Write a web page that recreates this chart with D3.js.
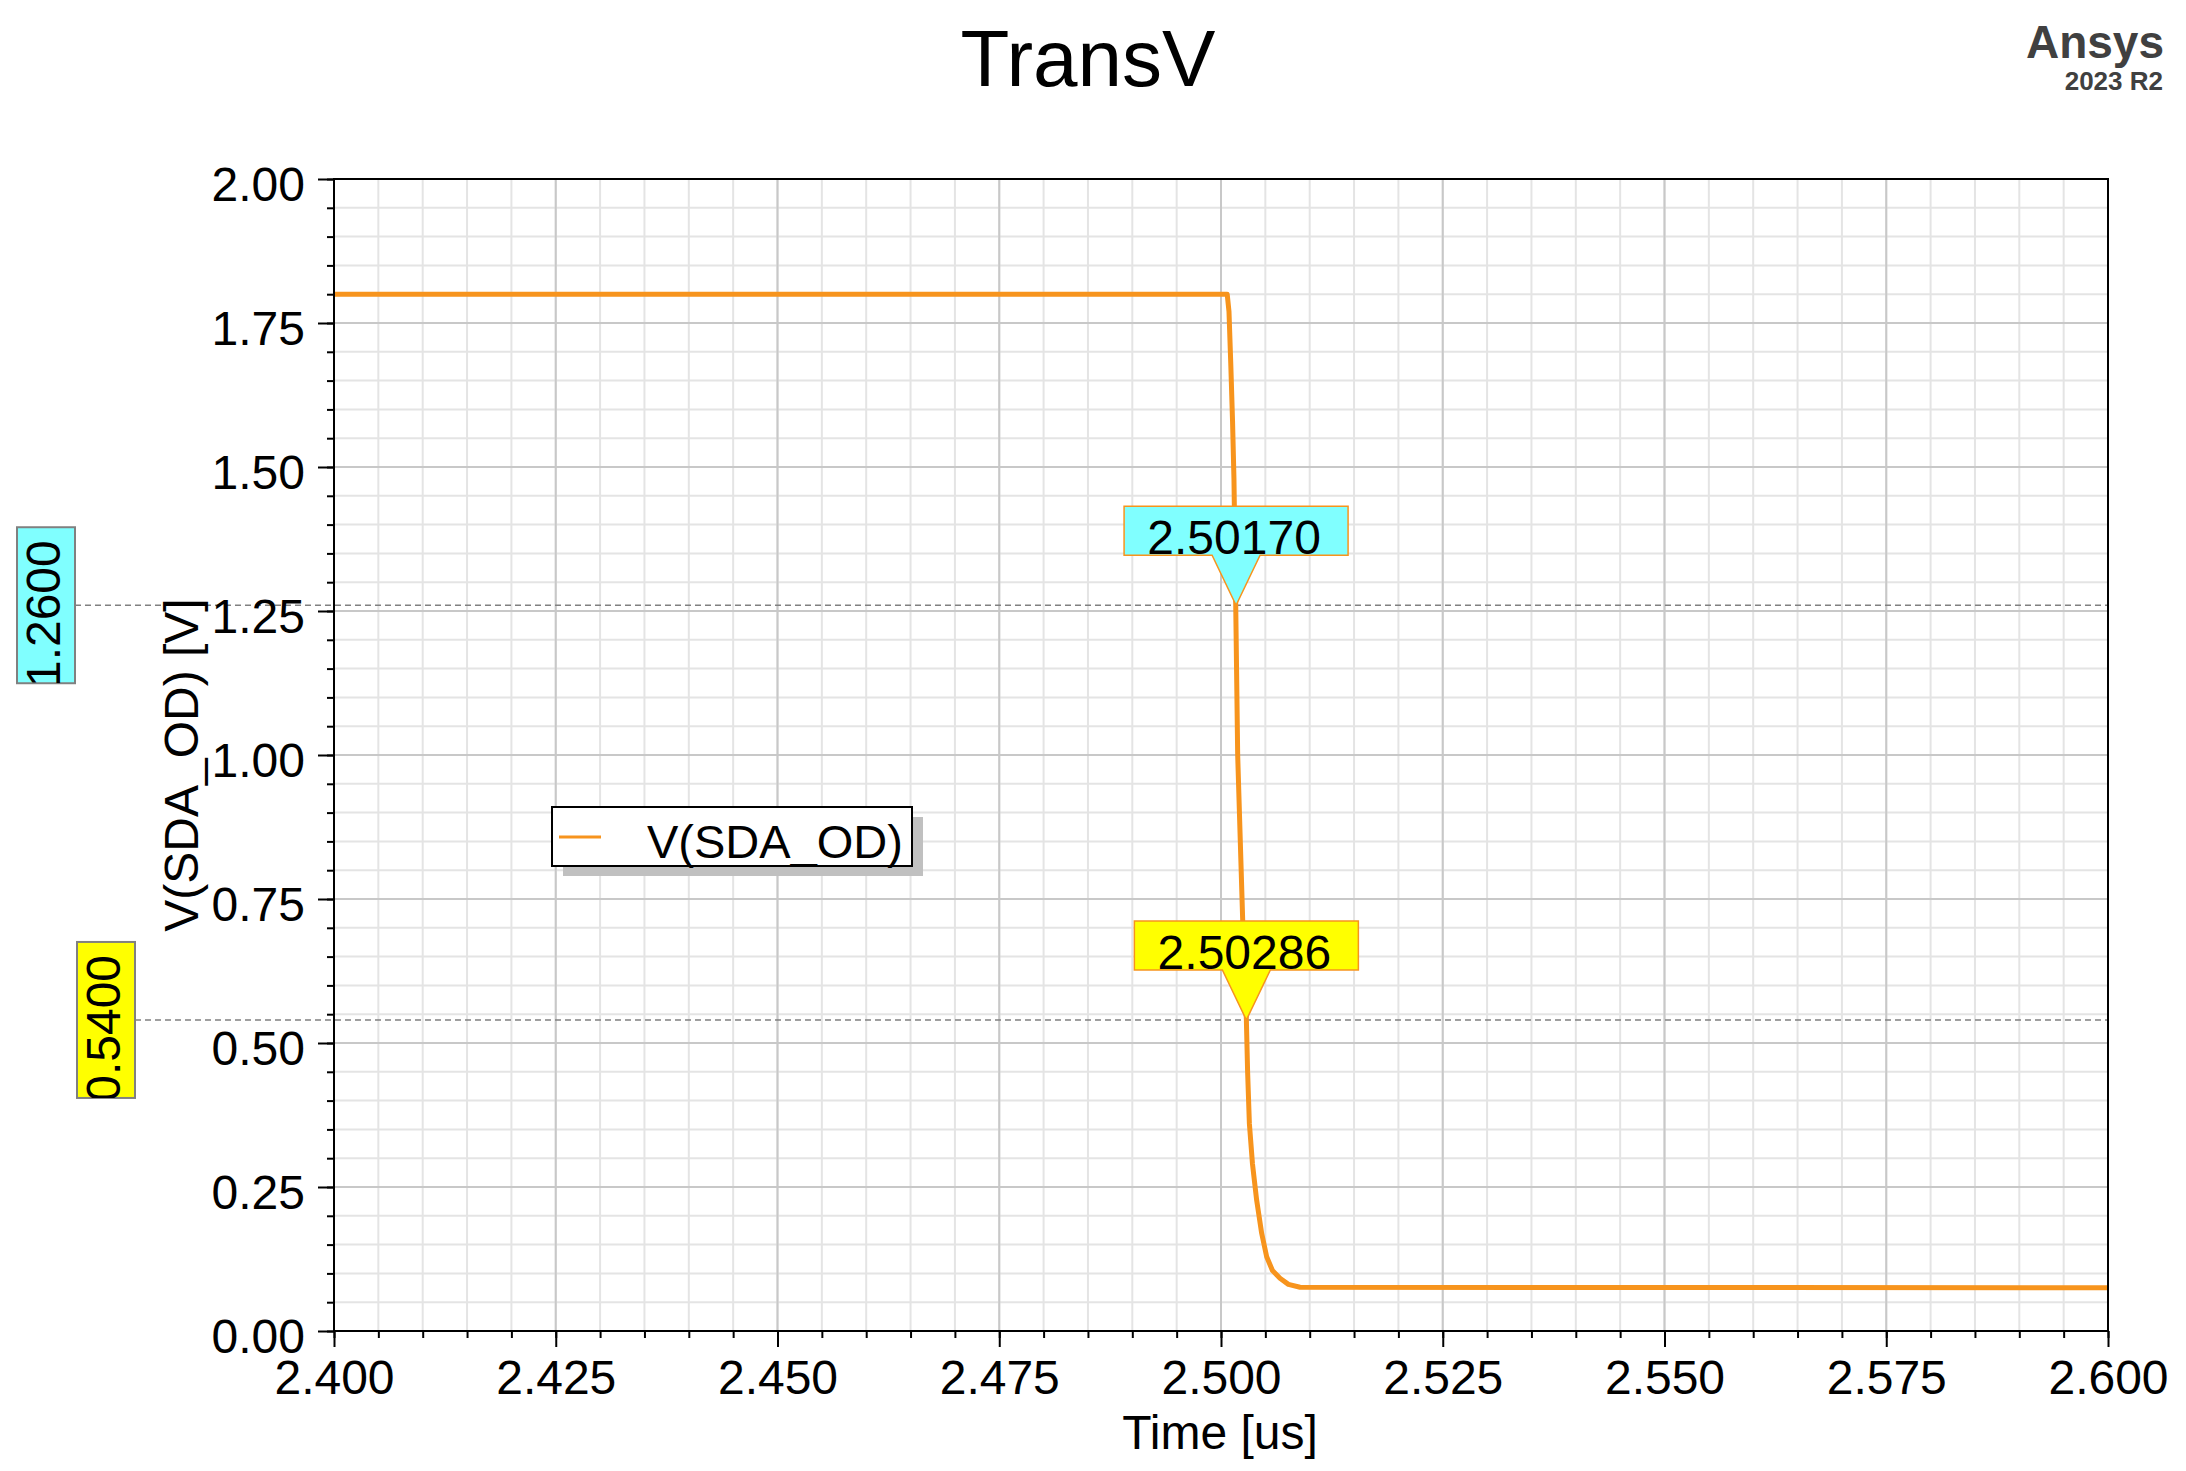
<!DOCTYPE html>
<html>
<head>
<meta charset="utf-8">
<script src="https://cdn.jsdelivr.net/npm/d3@7"></script>
<style>
  body { margin: 0; background: #fff; }
  text { font-family: "Liberation Sans", Arial, sans-serif; }
</style>
</head>
<body>
<svg id="chart" width="2186" height="1471"></svg>
<script>
/* TransV waveform - V(SDA_OD) falling edge with two cursor markers */

// waveform samples (time in us, volts)
var times = [2.4000, 2.5007, 2.5009, 2.5011, 2.5013, 2.50146, 2.50166, 2.50188, 2.50244, 2.50286,
             2.50300, 2.50320, 2.50355, 2.50402, 2.50458, 2.50515, 2.50580, 2.50665, 2.50760, 2.50891, 2.6000];
var volts = [1.800, 1.800, 1.770, 1.680, 1.580, 1.480, 1.260, 1.000, 0.716, 0.540,
             0.450, 0.360, 0.290, 0.227, 0.170, 0.129, 0.105, 0.0915, 0.081, 0.0759, 0.075];

// cursor markers
var markerTimes = [2.50170, 2.50286];
var markerVolts = [1.26, 0.54];
var markerTimeLabels = ['2.50170', '2.50286'];
var markerVoltLabels = ['1.2600', '0.5400'];
var markerColors = ['#80ffff', '#ffff00'];

var xMajorTicks = [2.400, 2.425, 2.450, 2.475, 2.500, 2.525, 2.550, 2.575, 2.600];
var yMajorTicks = [0.00, 0.25, 0.50, 0.75, 1.00, 1.25, 1.50, 1.75, 2.00];

var seriesName = 'V(SDA_OD)';

var margin = { top: 179, right: 78, bottom: 140, left: 334 },
    fullW = 2186, fullH = 1471,
    width = fullW - margin.left - margin.right,
    height = fullH - margin.top - margin.bottom,
    orange = '#f7941d',
    font = 48;

var svg = d3.select('#chart');

var x = d3.scaleLinear().domain([2.4, 2.6]).range([margin.left, margin.left + width]);
var y = d3.scaleLinear().domain([0, 2]).range([margin.top + height, margin.top]);

var xMinor = d3.range(0, 41).map(function(i) { return 2.4 + i * 0.005; });
var yMinor = d3.range(0, 41).map(function(i) { return i * 0.05; });

// grid
var grid = svg.append('g');
grid.selectAll('line.xm').data(xMinor).enter().append('line')
  .attr('x1', x).attr('x2', x)
  .attr('y1', margin.top).attr('y2', margin.top + height)
  .attr('stroke', '#e4e4e4').attr('stroke-width', 2);
grid.selectAll('line.ym').data(yMinor).enter().append('line')
  .attr('y1', y).attr('y2', y)
  .attr('x1', margin.left).attr('x2', margin.left + width)
  .attr('stroke', '#e4e4e4').attr('stroke-width', 2);
grid.selectAll('line.xM').data(xMajorTicks).enter().append('line')
  .attr('x1', x).attr('x2', x)
  .attr('y1', margin.top).attr('y2', margin.top + height)
  .attr('stroke', '#c8c8c8').attr('stroke-width', 2);
grid.selectAll('line.yM').data(yMajorTicks).enter().append('line')
  .attr('y1', y).attr('y2', y)
  .attr('x1', margin.left).attr('x2', margin.left + width)
  .attr('stroke', '#c8c8c8').attr('stroke-width', 2);

// horizontal marker boxes on the left + dashed lines
var boxX = [17, 77], boxW = 58, boxH = 156;
markerVolts.forEach(function(v, i) {
  var cy = y(v), by = cy - boxH / 2;
  svg.append('line')
    .attr('x1', boxX[i] + boxW).attr('x2', margin.left + width)
    .attr('y1', cy).attr('y2', cy)
    .attr('stroke', '#808080').attr('stroke-width', 1.5)
    .attr('stroke-dasharray', '6,4');
  svg.append('clipPath').attr('id', 'vclip' + i)
    .append('rect').attr('x', boxX[i]).attr('y', by).attr('width', boxW).attr('height', boxH);
  svg.append('rect')
    .attr('x', boxX[i]).attr('y', by).attr('width', boxW).attr('height', boxH)
    .attr('fill', markerColors[i]).attr('stroke', '#808080').attr('stroke-width', 2);
  svg.append('g').attr('clip-path', 'url(#vclip' + i + ')')
    .append('text')
    .attr('transform', 'translate(' + (boxX[i] + 43) + ',' + (by + 13) + ') rotate(-90)')
    .attr('text-anchor', 'end')
    .attr('font-size', font)
    .attr('fill', '#000')
    .text(markerVoltLabels[i]);
});

// waveform
var pts = times.map(function(t, i) { return [t, volts[i]]; });
var line = d3.line().x(function(d) { return x(d[0]); }).y(function(d) { return y(d[1]); });
svg.append('path')
  .datum(pts)
  .attr('d', line)
  .attr('fill', 'none')
  .attr('stroke', orange)
  .attr('stroke-width', 5)
  .attr('stroke-linejoin', 'round');

// frame
svg.append('rect')
  .attr('x', margin.left).attr('y', margin.top)
  .attr('width', width).attr('height', height)
  .attr('fill', 'none').attr('stroke', '#000').attr('stroke-width', 2);

// axes: minor ticks + major ticks with labels
function styleAxis(g) {
  g.select('.domain').remove();
  g.selectAll('.tick line').attr('stroke', '#000').attr('stroke-width', 2);
  g.selectAll('.tick text')
    .attr('font-family', '"Liberation Sans", Arial, sans-serif')
    .attr('font-size', font).attr('fill', '#000');
}

svg.append('g')
  .attr('transform', 'translate(' + margin.left + ',0)')
  .call(d3.axisLeft(y).tickValues(yMinor).tickSize(7).tickFormat(''))
  .call(styleAxis);
var yAxis = svg.append('g')
  .attr('transform', 'translate(' + margin.left + ',0)')
  .call(d3.axisLeft(y).tickValues(yMajorTicks).tickSize(16).tickPadding(13).tickFormat(d3.format('.2f')))
  .call(styleAxis);
yAxis.selectAll('.tick text').attr('dy', '0.45em');

svg.append('g')
  .attr('transform', 'translate(0,' + (margin.top + height) + ')')
  .call(d3.axisBottom(x).tickValues(xMinor).tickSize(7).tickFormat(''))
  .call(styleAxis);
svg.append('g')
  .attr('transform', 'translate(0,' + (margin.top + height) + ')')
  .call(d3.axisBottom(x).tickValues(xMajorTicks).tickSize(16).tickPadding(13).tickFormat(d3.format('.3f')))
  .call(styleAxis);

// axis titles
svg.append('text')
  .attr('transform', 'translate(198,' + 765 + ') rotate(-90)')
  .attr('text-anchor', 'middle')
  .attr('font-size', font)
  .text('V(SDA_OD) [V]');

svg.append('text')
  .attr('x', margin.left + width / 2 - 1).attr('y', 1449)
  .attr('text-anchor', 'middle')
  .attr('font-size', font)
  .text('Time [us]');

// title + logo
svg.append('text')
  .attr('x', 1088).attr('y', 86)
  .attr('text-anchor', 'middle')
  .attr('font-size', 80)
  .text('TransV');

svg.append('text')
  .attr('x', 2164).attr('y', 58)
  .attr('text-anchor', 'end')
  .attr('font-size', 46).attr('font-weight', 'bold')
  .attr('fill', '#404040')
  .text('Ansys');
svg.append('text')
  .attr('x', 2163).attr('y', 90)
  .attr('text-anchor', 'end')
  .attr('font-size', 26).attr('font-weight', 'bold')
  .attr('fill', '#404040')
  .text('2023 R2');

// time callouts pointing at the curve
var cW = 224, cH = 49, pH = 50, pHalf = 24;
markerTimes.forEach(function(t, i) {
  var ax = x(t), ay = y(markerVolts[i]);
  var bb = ay - pH, bt = bb - cH, bl = ax - cW / 2, br = ax + cW / 2;
  var path = d3.path();
  path.moveTo(bl, bt);
  path.lineTo(br, bt);
  path.lineTo(br, bb);
  path.lineTo(ax + pHalf, bb);
  path.lineTo(ax, ay);
  path.lineTo(ax - pHalf, bb);
  path.lineTo(bl, bb);
  path.closePath();
  svg.append('path')
    .attr('d', path.toString())
    .attr('fill', markerColors[i])
    .attr('stroke', orange).attr('stroke-width', 1.5);
  svg.append('text')
    .attr('x', ax - 2).attr('y', bb - 1)
    .attr('text-anchor', 'middle')
    .attr('font-size', font)
    .text(markerTimeLabels[i]);
});

// legend
var lg = svg.append('g');
lg.append('rect')
  .attr('x', 563).attr('y', 817).attr('width', 360).attr('height', 59)
  .attr('fill', '#c0c0c0');
lg.append('rect')
  .attr('x', 552).attr('y', 807).attr('width', 360).attr('height', 59)
  .attr('fill', '#fff').attr('stroke', '#000').attr('stroke-width', 2);
lg.append('line')
  .attr('x1', 559).attr('x2', 601).attr('y1', 837).attr('y2', 837)
  .attr('stroke', orange).attr('stroke-width', 3);
lg.append('text')
  .attr('x', 647).attr('y', 858)
  .attr('font-size', 47)
  .text(seriesName);
</script>
</body>
</html>
